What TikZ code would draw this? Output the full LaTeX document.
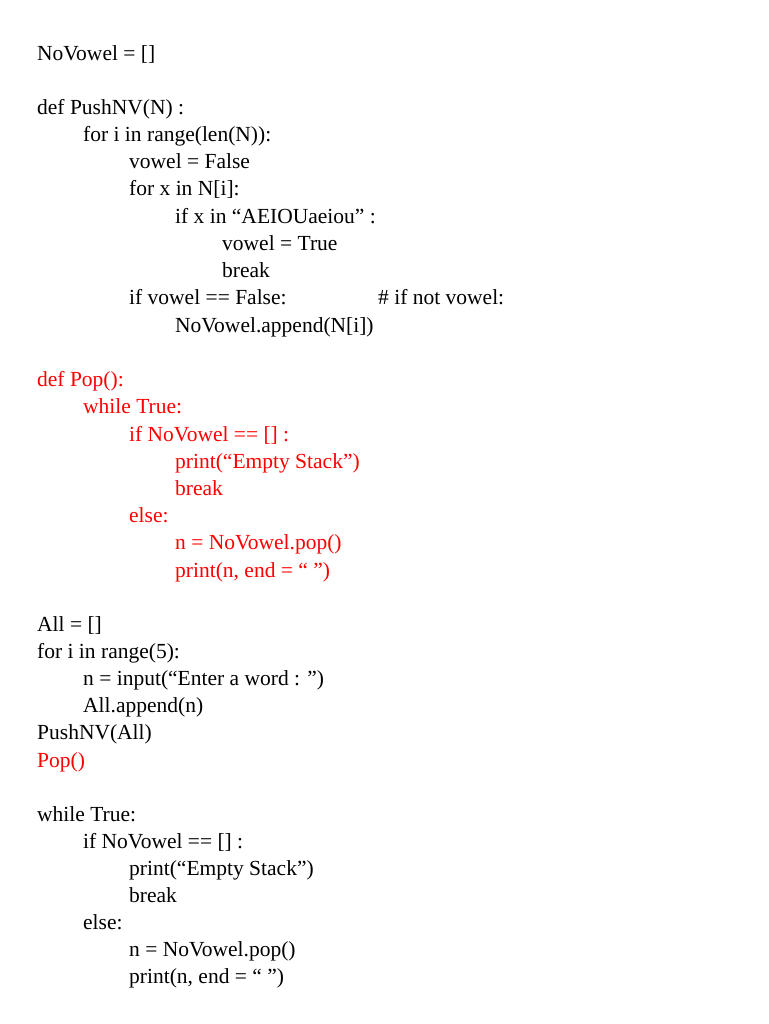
\documentclass[tikz,border=0pt]{standalone}
\usepackage{fontspec}
\setmainfont{Liberation Serif}
\begin{document}
\begin{tikzpicture}[x=1pt,y=-1pt,
  ln/.style={anchor=base west,inner sep=0pt,font=\fontsize{21.5}{25}\selectfont},
  rd/.style={ln,text=red}]
\useasboundingbox (0,0) rectangle (768,1024);
\def\L#1#2#3#4{\node[#1] (#2) at (#3) {#4};}
\begin{scope}[yshift=-6pt]
\L{ln}{a1}{37,55}{NoVowel = []}
\L{ln}{a2}{37,109}{def PushNV(N) :}
\L{ln}{a3}{83,136}{for i in range(len(N)):}
\L{ln}{a4}{129,163}{vowel = False}
\L{ln}{a5}{129,190}{for x in N[i]:}
\L{ln}{a6}{175,217}{if x in “AEIOUaeiou” :}
\L{ln}{a7}{222,244}{vowel = True}
\L{ln}{a8}{222,271}{break}
\L{ln}{a9}{129,298}{if vowel == False:}
\L{ln}{a9b}{378,298}{\# if not vowel:}
\L{ln}{a10}{175,326}{NoVowel.append(N[i])}
\L{rd}{b1}{37,380}{def Pop():}
\L{rd}{b2}{83,407}{while True:}
\L{rd}{b3}{129,435}{if NoVowel == [] :}
\L{rd}{b4}{175,462}{print(“Empty Stack”)}
\L{rd}{b5}{175,489}{break}
\L{rd}{b6}{129,516}{else:}
\L{rd}{b7}{175,543}{n = NoVowel.pop()}
\L{rd}{b8}{175,571}{print(n, end = “ ”)}
\L{ln}{c1}{37,625}{All = []}
\L{ln}{c2}{37,652}{for i in range(5):}
\L{ln}{c3}{83,679}{n = input(“Enter a word : ”)}
\L{ln}{c4}{83,706}{All.append(n)}
\L{ln}{c5}{37,733}{PushNV(All)}
\L{rd}{c6}{37,761}{Pop()}
\L{ln}{d1}{37,815}{while True:}
\L{ln}{d2}{83,842}{if NoVowel == [] :}
\L{ln}{d3}{129,869}{print(“Empty Stack”)}
\L{ln}{d4}{129,896}{break}
\L{ln}{d5}{83,923}{else:}
\L{ln}{d6}{129,950}{n = NoVowel.pop()}
\L{ln}{d7}{129,977}{print(n, end = “ ”)}
\end{scope}
\end{tikzpicture}
\end{document}
